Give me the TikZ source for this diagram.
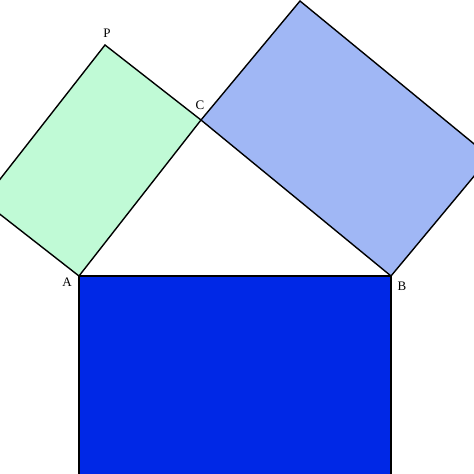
\documentclass[tikz,border=0pt]{standalone}
\usepackage{fontspec}
\setmainfont{Liberation Serif}
\usetikzlibrary{calc}
\definecolor{legreen}{RGB}{192,250,214}
\definecolor{catblue}{RGB}{160,183,245}
\definecolor{hypblue}{RGB}{0,40,230}
\tikzset{
  side/.style={draw=black, line width=1.4pt, line join=miter},
  vlabel/.style={font=\fontsize{13}{15}\selectfont, inner sep=0pt}
}
\begin{document}
\begin{tikzpicture}[x=1pt, y=1pt]
    \useasboundingbox (0,0) rectangle (474,474);
    \clip (0,0) rectangle (474,474);
    % Triangle vertices
    \coordinate (A) at (79,198);
    \coordinate (B) at (391,198);
    \coordinate (C) at (201,354);
    \coordinate (P) at (105,429);
    \coordinate (Q) at ($(A)+(P)-(C)$);
    \coordinate (R) at (300,473);
    \coordinate (S) at ($(B)+(R)-(C)$);
    \coordinate (Ad) at (79,-60);
    \coordinate (Bd) at (391,-60);
    % Rectangles on the sides
    \draw[side, fill=hypblue] (A) -- (B) -- (Bd) -- (Ad) -- cycle;
    \draw[side, fill=legreen] (A) -- (C) -- (P) -- (Q) -- cycle;
    \draw[side, fill=catblue] (C) -- (B) -- (S) -- (R) -- cycle;
    % Labels
    \node[vlabel] (lA) at (67,192) {A};
    \node[vlabel] (lB) at (402,188) {B};
    \node[vlabel] (lC) at (200,369) {C};
    \node[vlabel] (lP) at (107,441) {P};
\end{tikzpicture}
\end{document}
